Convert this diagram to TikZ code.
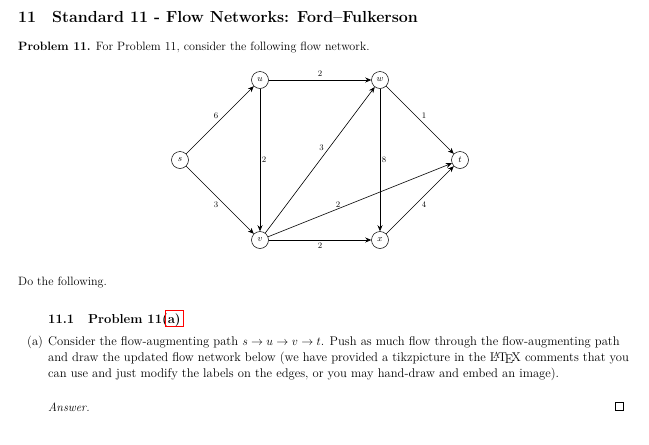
\documentclass[tikz,border=0pt]{standalone}
\usetikzlibrary{arrows.meta}
\begin{document}
\begin{tikzpicture}[x=1pt,y=-1pt,
 vtx/.style={circle,draw,line width=0.5pt,minimum size=17pt,inner sep=0pt,font=\fontsize{9}{10}\selectfont},
 edge/.style={-{Stealth[length=6pt,width=5pt]},line width=0.6pt},
 lbl/.style={font=\fontsize{8.5}{9}\selectfont,inner sep=1.5pt},
 txt/.style={anchor=base west,inner sep=0pt,font=\fontsize{12.1}{14}\selectfont},
 par/.style={txt,font=\fontsize{12.6}{14}\selectfont}]
\path[use as bounding box] (0,0) rectangle (649,445);
\node[txt,font=\fontsize{16}{18}\bfseries\selectfont] (h) at (18,22) {11\hspace{16pt}Standard 11 - Flow Networks: Ford--Fulkerson};
\node[txt] (p) at (18,50) {\textbf{Problem 11.} For Problem 11, consider the following flow network.};
\node[vtx] (s) at (180,160) {$s$};
\node[vtx] (u) at (260,80) {$u$};
\node[vtx] (w) at (380,80) {$w$};
\node[vtx] (t) at (460,160) {$t$};
\node[vtx] (v) at (260,240) {$v$};
\node[vtx] (xx) at (380,240) {$x$};
\draw[edge] (s) -- node[lbl,above left]{6} (u);
\draw[edge] (s) -- node[lbl,below left]{3} (v);
\draw[edge] (u) -- node[lbl,above,pos=0.5,yshift=2pt]{2} (w);
\draw[edge] (u) -- node[lbl,right,pos=0.5]{2} (v);
\draw[edge] (v) -- node[lbl,above left,pos=0.55]{3} (w);
\draw[edge] (v) -- node[lbl,above,pos=0.38]{2} (t);
\draw[edge] (v) -- node[lbl,below,yshift=-1pt]{2} (xx);
\draw[edge] (w) -- node[lbl,right]{8} (xx);
\draw[edge] (w) -- node[lbl,above right]{1} (t);
\draw[edge] (xx) -- node[lbl,below right]{4} (t);
\node[txt] (d) at (18,285) {Do the following.};
\node[txt,font=\fontsize{13}{15}\bfseries\selectfont] (sec) at (48,323) {11.1\hspace{14pt}Problem 11(a)};
\draw[red,line width=0.6pt] (165,310) rectangle (183,326);
\node[par] (a) at (27,345) {(a)};
\node[par] (l1) at (48,345) {Consider the flow-augmenting path $s\to u\to v\to t$. Push as much flow through the flow-augmenting path};
\node[par] (l2) at (48,361) {and draw the updated flow network below (we have provided a tikzpicture in the \LaTeX\ comments that you};
\node[par] (l3) at (48,377) {can use and just modify the labels on the edges, or you may hand-draw and embed an image).};
\node[txt,font=\fontsize{12.1}{14}\itshape\selectfont] (ans) at (48,411) {Answer.};
\draw[line width=0.6pt] (615,402) rectangle (623,410);
\end{tikzpicture}
\end{document}
